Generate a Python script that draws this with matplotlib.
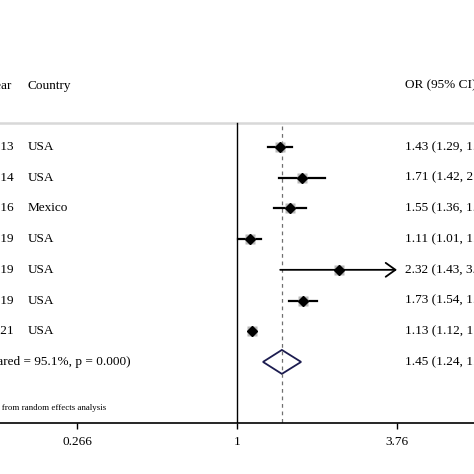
import numpy as np
import matplotlib.pyplot as plt
from matplotlib.transforms import blended_transform_factory
from matplotlib.patches import Polygon

plt.rcParams['font.family'] = ['Liberation Serif', 'DejaVu Serif']

# 数据
years = ['2013', '2014', '2016', '2019', '2019', '2019', '2021']
countries = ['USA', 'USA', 'Mexico', 'USA', 'USA', 'USA', 'USA']
or_val = [1.43, 1.71, 1.55, 1.11, 2.32, 1.73, 1.13]
ci_lo = [1.29, 1.42, 1.36, 1.01, 1.43, 1.54, 1.12]
ci_hi = [1.58, 2.07, 1.77, 1.22, 3.77, 1.94, 1.14]
overall = (1.45, 1.24, 1.70)
overall_label = 'Overall  (I-squared = 95.1%, p = 0.000)'
note = 'NOTE: Weights are from random effects analysis'
xticks = [0.266, 1, 3.76]
xtick_labels = ['0.266', '1', '3.76']

W = 474
fig = plt.figure(figsize=(4.74, 4.74), dpi=100)
ax = fig.add_axes([0, 51 / W, 1, 423 / W])
ax.set_xscale('log')
ax.set_xlim(0.1406, 7.114)
ax.set_ylim(8.99, -4.79)
for s in ['top', 'left', 'right']:
    ax.spines[s].set_visible(False)
ax.spines['bottom'].set_linewidth(1.2)
ax.set_yticks([])
ax.set_xticks(xticks)
ax.set_xticklabels(xtick_labels, fontsize=9.5)
ax.xaxis.set_minor_locator(plt.NullLocator())
ax.tick_params(axis='x', length=4, width=1, pad=5.5)

tr = blended_transform_factory(fig.transFigure, ax.transData)
fs = 9.5

# 表头
ax.text(12 / W, -2, 'Year', ha='right', va='center', fontsize=fs, transform=tr)
ax.text(28 / W, -2, 'Country', ha='left', va='center', fontsize=fs, transform=tr)
ax.text(405 / W, -2, 'OR (95% CI)', ha='left', va='center', fontsize=fs, transform=tr)
ax.plot([0, 1], [-0.78, -0.78], color='#d8d8d8', lw=1.8,
        transform=tr, clip_on=False)

# 参考线
ax.plot([1, 1], [-0.78, 9], color='black', lw=1)
ax.plot([overall[0]] * 2, [-0.70, 9], color='#707070', lw=0.9, ls=(0, (3, 3)))

xmax = xticks[-1]
for i in range(len(years)):
    ax.text(14 / W, i, years[i], ha='right', va='center', fontsize=fs, transform=tr)
    ax.text(28 / W, i, countries[i], ha='left', va='center', fontsize=fs, transform=tr)
    ax.text(405 / W, i, '%.2f (%.2f, %.2f)' % (or_val[i], ci_lo[i], ci_hi[i]),
            ha='left', va='center', fontsize=fs, transform=tr)
    if ci_hi[i] > xmax:
        ax.annotate('', xy=(xmax, i), xytext=(ci_lo[i], i),
                    arrowprops=dict(arrowstyle='->,head_length=0.7,head_width=0.5',
                                    lw=1.3, color='black', shrinkA=0, shrinkB=0))
    else:
        ax.plot([ci_lo[i], ci_hi[i]], [i, i], color='black', lw=1.6)
    ax.plot(or_val[i], i, marker='s', ms=6.5, color='#b8b8b8', mec='none')
    ax.plot(or_val[i], i, marker='D', ms=5.2, color='black')

# 合并效应
yo = len(years)
dh = 0.39
ax.add_patch(Polygon([[overall[1], yo], [overall[0], yo - dh], [overall[2], yo],
                      [overall[0], yo + dh]], closed=True, fill=False,
                     edgecolor='#1c1c50', lw=1.3))
ax.text(131 / W, yo, overall_label, ha='right', va='center', fontsize=fs, transform=tr)
ax.text(405 / W, yo, '%.2f (%.2f, %.2f)' % overall,
        ha='left', va='center', fontsize=fs, transform=tr)
ax.text(106 / W, 8.5, note, ha='right', va='center', fontsize=6.4, transform=tr)

fig.savefig('out.png', dpi=100)
